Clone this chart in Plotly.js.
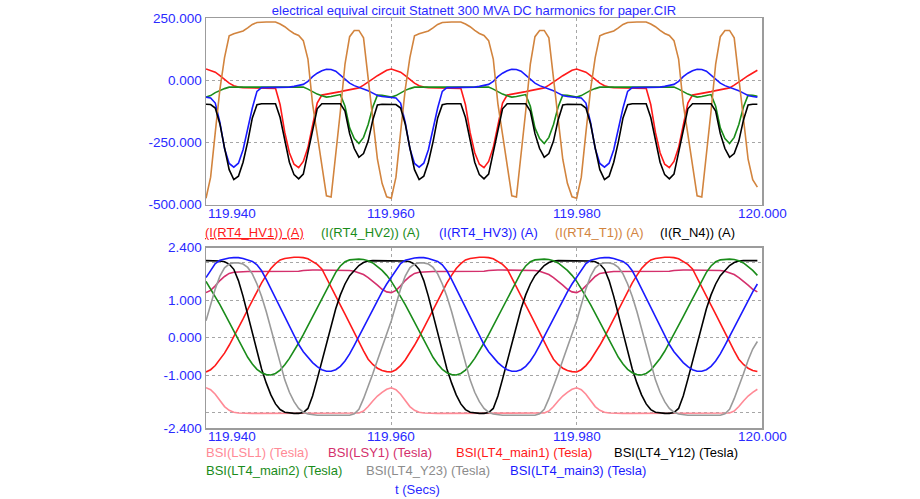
<!DOCTYPE html>
<html><head><meta charset="utf-8">
<script src="https://cdn.plot.ly/plotly-3.0.1.min.js"></script>
<style>html,body{margin:0;padding:0;background:#fff;}#chart{width:920px;height:499px;}</style>
</head><body><div id="chart"></div>
<script>
// ---------------- DATA ----------------
const chartTitle = 'electrical equival circuit Statnett 300 MVA DC harmonics for paper.CIR';
const xTickVals = [119.94, 119.96, 119.98, 120.0];
const xTickText = ['119.940', '119.960', '119.980', '120.000'];
const topYTickVals = [250, 0, -250, -500];
const topYTickText = ['250.000', '0.000', '-250.000', '-500.000'];
const botYTickVals = [2.4, 2, 1, 0, -1, -2, -2.4];
const botYTickText = ['2.400', '', '1.000', '0.000', '-1.000', '', '-2.400'];
const xTitle = 't (Secs)';

const topNames = ['(I(RT4_HV1)) (A)', '(I(RT4_HV2)) (A)', '(I(RT4_HV3)) (A)', '(I(RT4_T1)) (A)', '(I(R_N4)) (A)'];
const botNames = ['BSI(LSL1) (Tesla)', 'BSI(LSY1) (Tesla)', 'BSI(LT4_main1) (Tesla)', 'BSI(LT4_Y12) (Tesla)',
                  'BSI(LT4_main2) (Tesla)', 'BSI(LT4_Y23) (Tesla)', 'BSI(LT4_main3) (Tesla)'];

const time = [
119.9400,119.9405,119.9410,119.9415,119.9420,119.9425,119.9430,119.9435,119.9440,119.9445,119.9450,119.9455,119.9460,119.9465,119.9470,119.9475,119.9480,119.9485,119.9490,119.9495,
119.9500,119.9505,119.9510,119.9515,119.9520,119.9525,119.9530,119.9535,119.9540,119.9545,119.9550,119.9555,119.9560,119.9565,119.9570,119.9575,119.9580,119.9585,119.9590,119.9595,
119.9600,119.9605,119.9610,119.9615,119.9620,119.9625,119.9630,119.9635,119.9640,119.9645,119.9650,119.9655,119.9660,119.9665,119.9670,119.9675,119.9680,119.9685,119.9690,119.9695,
119.9700,119.9705,119.9710,119.9715,119.9720,119.9725,119.9730,119.9735,119.9740,119.9745,119.9750,119.9755,119.9760,119.9765,119.9770,119.9775,119.9780,119.9785,119.9790,119.9795,
119.9800,119.9805,119.9810,119.9815,119.9820,119.9825,119.9830,119.9835,119.9840,119.9845,119.9850,119.9855,119.9860,119.9865,119.9870,119.9875,119.9880,119.9885,119.9890,119.9895,
119.9900,119.9905,119.9910,119.9915,119.9920,119.9925,119.9930,119.9935,119.9940,119.9945,119.9950,119.9955,119.9960,119.9965,119.9970,119.9975,119.9980,119.9985,119.9990,119.9995];

// Upper panel currents (A)
const iRT4_HV1 = [
45,40,32,18,3,-12,-22,-28,-30,-30,-30,-30,-30,-30,-30,-33,-99,-210,-292,-338,-352,-327,-271,-185,-92,-60,-57,-55,-50,-46,-42,-38,-35,-31,-20,-9,5,18,30,40,
45,40,32,18,3,-12,-22,-28,-30,-30,-30,-30,-30,-30,-30,-33,-99,-210,-292,-338,-352,-327,-271,-185,-92,-60,-57,-55,-50,-46,-42,-38,-35,-31,-20,-9,5,18,30,40,
45,40,32,18,3,-12,-22,-28,-30,-30,-30,-30,-30,-30,-30,-33,-99,-210,-292,-338,-352,-327,-271,-185,-92,-60,-57,-55,-50,-46,-42,-38,-35,-31,-20,-9,5,18,30,40];
const iRT4_HV2 = [
-68,-62,-50,-41,-34,-28,-28,-28,-28,-28,-28,-28,-28,-28,-28,-28,-28,-28,-28,-28,-28,-28,-36,-47,-56,-63,-68,-66,-63,-58,-105,-192,-235,-255,-230,-178,-108,-60,-61,-65,
-68,-62,-50,-41,-34,-28,-28,-28,-28,-28,-28,-28,-28,-28,-28,-28,-28,-28,-28,-28,-28,-28,-36,-47,-56,-63,-68,-66,-63,-58,-105,-192,-235,-255,-230,-178,-108,-60,-61,-65,
-68,-62,-50,-41,-34,-28,-28,-28,-28,-28,-28,-28,-28,-28,-28,-28,-28,-28,-28,-28,-28,-28,-36,-47,-56,-63,-68,-66,-63,-58,-105,-192,-235,-255,-230,-178,-108,-60,-61,-65];
const iRT4_HV3 = [
-68,-72,-92,-170,-275,-335,-350,-334,-280,-195,-112,-45,-30,-30,-30,-30,-30,-30,-28,-25,-20,-17,-5,14,28,38,44,43,36,21,3,-12,-22,-28,-35,-43,-52,-62,-66,-68,
-68,-72,-92,-170,-275,-335,-350,-334,-280,-195,-112,-45,-30,-30,-30,-30,-30,-30,-28,-25,-20,-17,-5,14,28,38,44,43,36,21,3,-12,-22,-28,-35,-43,-52,-62,-66,-68,
-68,-72,-92,-170,-275,-335,-350,-334,-280,-195,-112,-45,-30,-30,-30,-30,-30,-30,-28,-25,-20,-17,-5,14,28,38,44,43,36,21,3,-12,-22,-28,-35,-43,-52,-62,-66,-68];
const iRT4_T1 = [
-475,-390,-210,-37,91,178,187,191,198,210,224,232,234,234,234,234,226,215,200,188,180,159,85,-95,-218,-343,-465,-470,-310,-125,65,175,200,200,170,5,-175,-318,-415,-469,
-475,-390,-210,-37,91,178,187,191,198,210,224,232,234,234,234,234,226,215,200,188,180,159,85,-95,-218,-343,-465,-470,-310,-125,65,175,200,200,170,5,-175,-318,-415,-469,
-475,-390,-210,-37,91,178,187,191,198,210,224,232,234,234,234,234,226,215,200,188,180,159,85,-95,-218,-343,-465,-470,-310,-125,65,175,200,200,170,5,-175,-318,-400,-430];
const iR_N4 = [
-97,-98,-112,-176,-272,-360,-400,-386,-330,-248,-152,-99,-95,-95,-95,-95,-150,-242,-330,-380,-397,-378,-293,-195,-115,-95,-95,-95,-95,-95,-124,-215,-275,-310,-295,-245,-160,-100,-97,-97,
-97,-98,-112,-176,-272,-360,-400,-386,-330,-248,-152,-99,-95,-95,-95,-95,-150,-242,-330,-380,-397,-378,-293,-195,-115,-95,-95,-95,-95,-95,-124,-215,-275,-310,-295,-245,-160,-100,-97,-97,
-97,-98,-112,-176,-272,-360,-400,-386,-330,-248,-152,-99,-95,-95,-95,-95,-150,-242,-330,-380,-397,-378,-293,-195,-115,-95,-95,-95,-95,-95,-124,-215,-275,-310,-295,-245,-160,-100,-97,-97];

// Lower panel flux densities (Tesla)
const bLSL1 = [
-1.33,-1.38,-1.5,-1.66,-1.83,-1.93,-1.98,-2.0,-2.01,-2.01,-2.01,-2.01,-2.01,-2.01,-2.01,-2.01,-2.01,-2.01,-2.01,-2.01,-2.01,-2.01,-2.01,-2.01,-2.01,-2.01,-2.01,-2.01,-2.01,-2.01,-2.01,-2.01,-2.01,-2.0,-1.95,-1.83,-1.68,-1.55,-1.45,-1.37,
-1.33,-1.38,-1.5,-1.66,-1.83,-1.93,-1.98,-2.0,-2.01,-2.01,-2.01,-2.01,-2.01,-2.01,-2.01,-2.01,-2.01,-2.01,-2.01,-2.01,-2.01,-2.01,-2.01,-2.01,-2.01,-2.01,-2.01,-2.01,-2.01,-2.01,-2.01,-2.01,-2.01,-2.0,-1.95,-1.83,-1.68,-1.55,-1.45,-1.37,
-1.33,-1.38,-1.5,-1.66,-1.83,-1.93,-1.98,-2.0,-2.01,-2.01,-2.01,-2.01,-2.01,-2.01,-2.01,-2.01,-2.01,-2.01,-2.01,-2.01,-2.01,-2.01,-2.01,-2.01,-2.01,-2.01,-2.01,-2.01,-2.01,-2.01,-2.01,-2.01,-2.01,-2.0,-1.95,-1.83,-1.68,-1.55,-1.45,-1.37];
const bLSY1 = [
1.2,1.26,1.38,1.52,1.63,1.71,1.74,1.75,1.76,1.76,1.76,1.76,1.76,1.76,1.76,1.76,1.76,1.76,1.76,1.76,1.77,1.79,1.8,1.8,1.8,1.8,1.8,1.8,1.8,1.8,1.8,1.79,1.77,1.73,1.68,1.6,1.51,1.4,1.29,1.22,
1.2,1.26,1.38,1.52,1.63,1.71,1.74,1.75,1.76,1.76,1.76,1.76,1.76,1.76,1.76,1.76,1.76,1.76,1.76,1.76,1.77,1.79,1.8,1.8,1.8,1.8,1.8,1.8,1.8,1.8,1.8,1.79,1.77,1.73,1.68,1.6,1.51,1.4,1.29,1.22,
1.2,1.26,1.38,1.52,1.63,1.71,1.74,1.75,1.76,1.76,1.76,1.76,1.76,1.76,1.76,1.76,1.76,1.76,1.76,1.76,1.77,1.79,1.8,1.8,1.8,1.8,1.8,1.8,1.8,1.8,1.8,1.79,1.77,1.73,1.68,1.6,1.51,1.4,1.29,1.22];
const bLT4_main1 = [
-0.91,-0.85,-0.74,-0.59,-0.41,-0.2,0.02,0.26,0.5,0.75,1.0,1.24,1.46,1.66,1.84,1.97,2.07,2.11,2.13,2.14,2.14,2.13,2.1,2.03,1.95,1.83,1.6,1.35,1.1,0.87,0.63,0.38,0.13,-0.11,-0.35,-0.57,-0.71,-0.81,-0.87,-0.9,
-0.91,-0.85,-0.74,-0.59,-0.41,-0.2,0.02,0.26,0.5,0.75,1.0,1.24,1.46,1.66,1.84,1.97,2.07,2.11,2.13,2.14,2.14,2.13,2.1,2.03,1.95,1.83,1.6,1.35,1.1,0.87,0.63,0.38,0.13,-0.11,-0.35,-0.57,-0.71,-0.81,-0.87,-0.9,
-0.91,-0.85,-0.74,-0.59,-0.41,-0.2,0.02,0.26,0.5,0.75,1.0,1.24,1.46,1.66,1.84,1.97,2.07,2.11,2.13,2.14,2.14,2.13,2.1,2.03,1.95,1.83,1.6,1.35,1.1,0.87,0.63,0.38,0.13,-0.11,-0.35,-0.57,-0.71,-0.81,-0.87,-0.9];
const bLT4_Y12 = [
2.05,2.05,2.05,2.04,2.02,1.96,1.82,1.52,1.1,0.62,0.1,-0.4,-0.83,-1.2,-1.52,-1.76,-1.91,-1.98,-2.0,-2.01,-2.01,-1.99,-1.88,-1.55,-1.1,-0.62,-0.14,0.33,0.77,1.14,1.43,1.65,1.8,1.92,2.0,2.04,2.05,2.05,2.05,2.05,
2.05,2.05,2.05,2.04,2.02,1.96,1.82,1.52,1.1,0.62,0.1,-0.4,-0.83,-1.2,-1.52,-1.76,-1.91,-1.98,-2.0,-2.01,-2.01,-1.99,-1.88,-1.55,-1.1,-0.62,-0.14,0.33,0.77,1.14,1.43,1.65,1.8,1.92,2.0,2.04,2.05,2.05,2.05,2.05,
2.05,2.05,2.05,2.04,2.02,1.96,1.82,1.52,1.1,0.62,0.1,-0.4,-0.83,-1.2,-1.52,-1.76,-1.91,-1.98,-2.0,-2.01,-2.01,-1.99,-1.88,-1.55,-1.1,-0.62,-0.14,0.33,0.77,1.14,1.43,1.65,1.8,1.92,2.0,2.04,2.05,2.05,2.05,2.05];
const bLT4_main2 = [
1.5,1.3,1.1,0.88,0.65,0.42,0.18,-0.06,-0.3,-0.52,-0.7,-0.84,-0.93,-0.98,-0.99,-0.95,-0.86,-0.72,-0.55,-0.36,-0.14,0.08,0.32,0.56,0.8,1.04,1.28,1.52,1.74,1.91,2.02,2.07,2.09,2.09,2.08,2.05,1.99,1.9,1.79,1.66,
1.5,1.3,1.1,0.88,0.65,0.42,0.18,-0.06,-0.3,-0.52,-0.7,-0.84,-0.93,-0.98,-0.99,-0.95,-0.86,-0.72,-0.55,-0.36,-0.14,0.08,0.32,0.56,0.8,1.04,1.28,1.52,1.74,1.91,2.02,2.07,2.09,2.09,2.08,2.05,1.99,1.9,1.79,1.66,
1.5,1.3,1.1,0.88,0.65,0.42,0.18,-0.06,-0.3,-0.52,-0.7,-0.84,-0.93,-0.98,-0.99,-0.95,-0.86,-0.72,-0.55,-0.36,-0.14,0.08,0.32,0.56,0.8,1.04,1.28,1.52,1.74,1.91,2.02,2.07,2.09,2.09,2.08,2.05,1.99,1.9,1.79,1.66];
const bLT4_Y23 = [
0.45,0.88,1.3,1.64,1.86,1.96,1.99,1.99,1.96,1.87,1.7,1.43,1.1,0.7,0.25,-0.25,-0.72,-1.12,-1.45,-1.7,-1.88,-1.98,-2.03,-2.05,-2.06,-2.06,-2.06,-2.06,-2.06,-2.06,-2.06,-2.06,-2.02,-1.9,-1.62,-1.3,-0.96,-0.6,-0.26,0.1,
0.45,0.88,1.3,1.64,1.86,1.96,1.99,1.99,1.96,1.87,1.7,1.43,1.1,0.7,0.25,-0.25,-0.72,-1.12,-1.45,-1.7,-1.88,-1.98,-2.03,-2.05,-2.06,-2.06,-2.06,-2.06,-2.06,-2.06,-2.06,-2.06,-2.02,-1.9,-1.62,-1.3,-0.96,-0.6,-0.26,0.1,
0.45,0.88,1.3,1.64,1.86,1.96,1.99,1.99,1.96,1.87,1.7,1.43,1.1,0.7,0.25,-0.25,-0.72,-1.12,-1.45,-1.7,-1.88,-1.98,-2.03,-2.05,-2.06,-2.06,-2.06,-2.06,-2.06,-2.06,-2.06,-2.06,-2.02,-1.9,-1.62,-1.3,-0.96,-0.6,-0.3,-0.1];
const bLT4_main3 = [
1.6,1.8,1.97,2.06,2.1,2.12,2.13,2.13,2.11,2.08,2.03,1.94,1.78,1.55,1.3,1.05,0.8,0.56,0.32,0.06,-0.18,-0.37,-0.53,-0.66,-0.77,-0.85,-0.89,-0.89,-0.85,-0.76,-0.62,-0.43,-0.2,0.04,0.28,0.52,0.76,1.0,1.22,1.43,
1.6,1.8,1.97,2.06,2.1,2.12,2.13,2.13,2.11,2.08,2.03,1.94,1.78,1.55,1.3,1.05,0.8,0.56,0.32,0.06,-0.18,-0.37,-0.53,-0.66,-0.77,-0.85,-0.89,-0.89,-0.85,-0.76,-0.62,-0.43,-0.2,0.04,0.28,0.52,0.76,1.0,1.22,1.43,
1.6,1.8,1.97,2.06,2.1,2.12,2.13,2.13,2.11,2.08,2.03,1.94,1.78,1.55,1.3,1.05,0.8,0.56,0.32,0.06,-0.18,-0.37,-0.53,-0.66,-0.77,-0.85,-0.89,-0.89,-0.85,-0.76,-0.62,-0.43,-0.2,0.04,0.28,0.52,0.76,1.0,1.22,1.43];

// ---------------- STYLE / LAYOUT ----------------
const W = 920, H = 499;
const fx = p => p / W;
const fy = p => 1 - p / H;
const FONT = 'Liberation Sans, Arial, Helvetica, sans-serif';
const BLUE_TXT = '#2a2aff';
const FRAME = '#9c9c9c';
const GRID = '#a6a6a6';

const topColors = ['#ff1a1a', '#1a8c1a', '#1a1aff', '#d2843e', '#000000'];
const botColors = ['#ff8a96', '#d4306c', '#ff1a1a', '#000000', '#1a8c1a', '#9a9a9a', '#1a1aff'];
const topSeries = [iRT4_HV1, iRT4_HV2, iRT4_HV3, iRT4_T1, iR_N4];
const botSeries = [bLSL1, bLSY1, bLT4_main1, bLT4_Y12, bLT4_main2, bLT4_Y23, bLT4_main3];

const traces = [];
topSeries.forEach((ys, i) => traces.push({
  type: 'scatter', mode: 'lines', x: time, y: ys, name: topNames[i],
  xaxis: 'x', yaxis: 'y', line: {color: topColors[i], width: 1.6}, hoverinfo: 'skip'
}));
botSeries.forEach((ys, i) => traces.push({
  type: 'scatter', mode: 'lines', x: time, y: ys, name: botNames[i],
  xaxis: 'x2', yaxis: 'y2', line: {color: botColors[i], width: 1.6}, hoverinfo: 'skip'
}));

const xDom = [fx(206), fx(762)];
const baseX = {
  domain: xDom, range: [xTickVals[0], xTickVals[xTickVals.length - 1]],
  tickvals: xTickVals.slice(1, -1), showticklabels: false, ticks: '',
  showgrid: true, gridcolor: GRID, griddash: 'dot', gridwidth: 1,
  zeroline: false, showline: true, mirror: true, linecolor: FRAME, linewidth: 1.5
};
const baseY = {
  ticks: '', showgrid: true, gridcolor: GRID, griddash: 'dot', gridwidth: 1,
  zeroline: false, showline: true, mirror: true, linecolor: FRAME, linewidth: 1.5,
  tickfont: {family: FONT, size: 13.5, color: BLUE_TXT}
};

const annotations = [];
// x tick labels (first one left-justified at the frame edge)
[[fy(213), 'x'], [fy(436.5), 'x2']].forEach(([yy, xr]) => {
  xTickVals.forEach((v, i) => annotations.push({
    xref: xr, yref: 'paper', x: v, y: yy, text: xTickText[i], showarrow: false,
    xanchor: i === 0 ? 'left' : 'center', yanchor: 'middle',
    font: {family: FONT, size: 13.5, color: BLUE_TXT}
  }));
});
// upper legend
const topLegX = [203, 319, 437, 552.5, 657.5];
topNames.forEach((n, i) => annotations.push({
  xref: 'paper', yref: 'paper', x: fx(topLegX[i]), y: fy(232), xanchor: 'left', yanchor: 'middle',
  text: i === 0 ? '<span style="text-decoration:underline">' + n + '</span>' : n,
  showarrow: false, font: {family: FONT, size: 13, color: topColors[i]}
}));
// lower legend
const botLegPos = [[203.5, 452], [326, 452], [454, 452], [612, 452], [203.5, 470.5], [364, 470.5], [508, 470.5]];
botNames.forEach((n, i) => annotations.push({
  xref: 'paper', yref: 'paper', x: fx(botLegPos[i][0]), y: fy(botLegPos[i][1]), xanchor: 'left', yanchor: 'middle',
  text: n, showarrow: false, font: {family: FONT, size: 13, color: botColors[i] === '#9a9a9a' ? '#8c8c8c' : botColors[i]}
}));
annotations.push({
  xref: 'paper', yref: 'paper', x: fx(417.5), y: fy(489), xanchor: 'center', yanchor: 'middle',
  text: xTitle, showarrow: false, font: {family: FONT, size: 13, color: BLUE_TXT}
});

const layout = {
  width: W, height: H, margin: {l: 0, r: 0, t: 0, b: 0},
  paper_bgcolor: '#ffffff', plot_bgcolor: '#ffffff', showlegend: false,
  font: {family: FONT, size: 13, color: BLUE_TXT},
  title: {text: chartTitle, x: fx(474), xanchor: 'center', y: fy(10.5), yanchor: 'middle',
          xref: 'paper', yref: 'container', font: {family: FONT, size: 13, color: BLUE_TXT}},
  xaxis: Object.assign({}, baseX, {anchor: 'y'}),
  yaxis: Object.assign({}, baseY, {anchor: 'x', domain: [fy(204.5), fy(18)], range: [-500, 250],
         tickvals: topYTickVals, ticktext: topYTickText}),
  xaxis2: Object.assign({}, baseX, {anchor: 'y2'}),
  yaxis2: Object.assign({}, baseY, {anchor: 'x2', domain: [fy(428), fy(247.5)], range: [-2.4, 2.4],
         tickvals: botYTickVals, ticktext: botYTickText}),
  annotations: annotations
};

Plotly.newPlot('chart', traces, layout, {staticPlot: true, displayModeBar: false});
</script>
</body></html>
